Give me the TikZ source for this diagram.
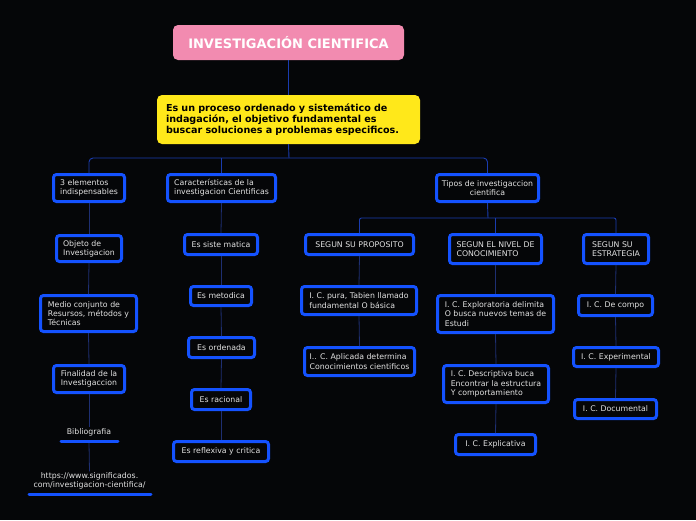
\documentclass[tikz,border=0pt]{standalone}
\usepackage{fontspec}
\setmainfont{DejaVu Sans}
\usepackage{tikz}

\definecolor{bgblack}{HTML}{050608}
\definecolor{boxblue}{HTML}{1452FF}
\definecolor{linkblue}{HTML}{1A3CB0}
\definecolor{sublinkblue}{HTML}{1E2F72}
\definecolor{titlepink}{HTML}{F28BB0}
\definecolor{defyellow}{HTML}{FFE81A}
\definecolor{textgray}{HTML}{E2E2E2}

\begin{document}
\begin{tikzpicture}[x=1pt, y=-1pt,
		box/.style={draw=boxblue, line width=3pt, rounded corners=3pt, fill=bgblack,
			text=textgray, font=\fontsize{7.8}{9.2}\selectfont, align=left, inner sep=1.5pt},
		link/.style={draw=linkblue, line width=0.9pt},
		sublink/.style={draw=sublinkblue, line width=0.8pt},
		bar/.style={draw=boxblue, line width=3pt, line cap=round}]
		\fill[bgblack] (0,0) rectangle (696,520);
		\useasboundingbox (0,0) rectangle (696,520);

		% top
		\node[fill=titlepink, rounded corners=5pt, text=white, font=\fontsize{13}{15}\selectfont\bfseries,
			minimum width=231, minimum height=35] (title) at (288.5,42.5) {INVESTIGACIÓN CIENTIFICA};
		\node[fill=defyellow, rounded corners=5pt, text=black, font=\fontsize{9.6}{11}\selectfont\bfseries,
			align=left, text width=245, inner xsep=9, minimum height=49] (def) at (288.5,119.5)
			{Es un proceso ordenado y sistemático de\\indagación, el objetivo fundamental es\\buscar soluciones a problemas especificos.};

		% first level
		\node[box, minimum width=71, minimum height=27] (elem) at (89,188) {3 elementos\\indispensables};
		\node[box, minimum width=108, minimum height=27] (carac) at (221.5,188) {Características de la\\investigacion Cientificas};
		\node[box, align=center, minimum width=102, minimum height=27] (tipos) at (487.5,188) {Tipos de investigaccion\\cientifica};

		% 3 elementos
		\node[box, minimum width=65, minimum height=26] (obj) at (89,248.5) {Objeto de\\Investigacion};
		\node[box, minimum width=96, minimum height=36] (medio) at (88.5,313.5) {Medio conjunto de\\Resursos, métodos y\\Técnicas};
		\node[box, align=center, minimum width=71, minimum height=27] (final) at (89,379) {Finalidad de la\\Investigaccion};
		\node[text=textgray, font=\fontsize{7.8}{9.2}\selectfont, inner sep=1pt] (bib) at (89,432) {Bibliografia};
		\coordinate (bibbar) at (89,441);
		\draw[bar] (61,441) -- (118,441);
		\node[text=textgray, font=\fontsize{7.8}{9.2}\selectfont, align=center, inner sep=1pt] (url) at (89.5,481)
			{https://www.significados.\\com/investigacion-cientifica/};
		\draw[bar] (29,494) -- (151,494);

		% caracteristicas
		\node[box, minimum width=73, minimum height=20] (sist) at (221,244.5) {Es siste matica};
		\node[box, minimum width=61, minimum height=19] (metod) at (221,296) {Es metodica};
		\node[box, minimum width=66, minimum height=20] (orden) at (221.5,347.5) {Es ordenada};
		\node[box, minimum width=59, minimum height=20] (racio) at (221,399.5) {Es racional};
		\node[box, minimum width=95, minimum height=20] (reflex) at (221,451.5) {Es reflexiva y critica};

		% tipos
		\node[box, minimum width=108, minimum height=20] (prop) at (359.5,244.5) {SEGUN SU PROPOSITO};
		\node[box, minimum width=92, minimum height=29] (nivel) at (495.5,249) {SEGUN EL NIVEL DE\\CONOCIMIENTO};
		\node[box, minimum width=65, minimum height=29] (estr) at (616,249) {SEGUN SU\\ESTRATEGIA};
		\node[box, minimum width=115, minimum height=28] (pura) at (359,300.5) {I. C. pura, Tabien llamado\\fundamental O básica};
		\node[box, minimum width=110, minimum height=28] (aplic) at (359.5,361.5) {I.. C. Aplicada determina\\Conocimientos cientificos};
		\node[box, minimum width=116, minimum height=37] (explo) at (495.5,314) {I. C. Exploratoria delimita\\O busca nuevos temas de\\Estudi};
		\node[box, minimum width=105, minimum height=37] (descr) at (496,384) {I. C. Descriptiva buca\\Encontrar la estructura\\Y comportamiento};
		\node[box, minimum width=80, minimum height=20] (expli) at (495.5,444.5) {I. C. Explicativa};
		\node[box, minimum width=74, minimum height=20] (compo) at (615.5,305.5) {I. C. De compo};
		\node[box, minimum width=85, minimum height=19] (exper) at (616,357) {I. C. Experimental};
		\node[box, minimum width=82, minimum height=19] (docum) at (615.5,409) {I. C. Documental};

		% connectors
		\coordinate (bus1) at (289,158);
		\coordinate (bus2) at (488,218);
		\draw[link] (title.south) -- (def.north);
		\draw[link] (def.south) -- (bus1);
		\draw[link, rounded corners=4pt] (elem.north) |- (bus1) -| (tipos.north);
		\draw[link] (carac.north) -- (carac.north |- bus1);
		\draw[link] (tipos.south) -- (bus2);
		\draw[link, rounded corners=2pt] (prop.north) |- (bus2) -| (estr.north);
		\draw[link] (nivel.north) -- (nivel.north |- bus2);
		\foreach \a/\b in {elem/obj, obj/medio, medio/final, final/bib, carac/sist, sist/metod, metod/orden,
				orden/racio, racio/reflex, prop/pura, pura/aplic, nivel/explo, explo/descr, descr/expli,
				estr/compo, compo/exper, exper/docum}
			\draw[sublink] (\a.south) -- (\b.north);
		\draw[sublink] (bibbar) ++(0,2) -- (url.north);
	\end{tikzpicture}
\end{document}
